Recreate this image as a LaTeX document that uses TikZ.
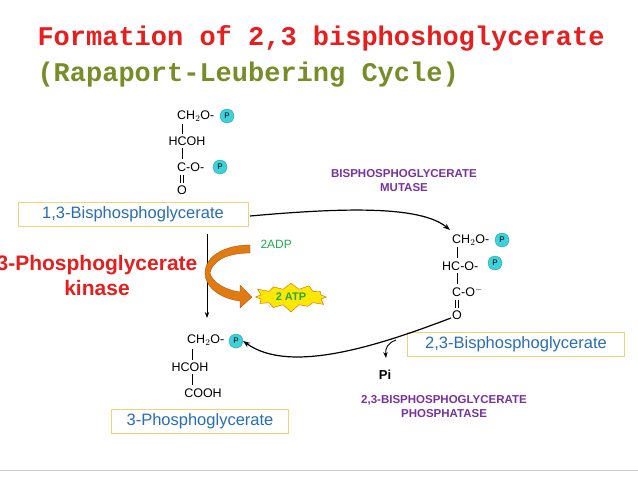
\documentclass[tikz,border=0pt]{standalone}
\usepackage{fontspec}
\setmainfont{Liberation Sans}
\newfontfamily\titlefont{Liberation Mono}
\usetikzlibrary{shapes.symbols,arrows.meta}
\definecolor{titred}{RGB}{230,30,30}
\definecolor{titgreen}{RGB}{120,140,40}
\definecolor{boxblue}{RGB}{40,110,180}
\definecolor{boxedge}{RGB}{240,210,120}
\definecolor{purp}{RGB}{120,50,160}
\definecolor{grn}{RGB}{30,170,80}
\definecolor{orng}{RGB}{220,100,20}
\definecolor{pcyan}{RGB}{60,210,220}
\tikzset{
  chem/.style={font=\fontsize{12.5}{13}\selectfont, inner sep=0pt},
  pball/.style={circle, fill=pcyan, draw=pcyan!70!black, line width=0.3pt, minimum size=14pt, inner sep=0pt, font=\fontsize{8}{9}\selectfont},
  namebox/.style={draw=boxedge, line width=1pt, text=boxblue, font=\fontsize{16.5}{17}\selectfont, inner xsep=5pt, minimum height=24pt},
  enz/.style={text=purp, font=\fontsize{11.5}{14}\selectfont\bfseries, align=center},
  bond/.style={line width=0.8pt},
  rxn/.style={line width=1.2pt, -{Stealth[length=7pt]}}
}
\begin{document}
\begin{tikzpicture}[x=1pt,y=-1pt]
\useasboundingbox (0,0) rectangle (638,479);
\fill[white] (0,0) rectangle (638,479);
\node[anchor=west, text=titred, font=\titlefont\fontsize{27}{28}\selectfont\bfseries] (t1) at (34,38) {Formation of 2,3 bisphoshoglycerate};
\node[anchor=west, text=titgreen, font=\titlefont\fontsize{27}{28}\selectfont\bfseries] (t2) at (34,75) {(Rapaport-Leubering Cycle)};
\draw[gray!40, line width=0.8pt] (0,470) -- (638,470);
% 1,3-BPG
\node[chem, anchor=west] (a1) at (177,116) {CH$_2$O-};
\node[pball] (ap1) at (227,116) {P};
\node[chem] (a2) at (187,141) {HCOH};
\node[chem, anchor=west] (a3) at (177,167) {C-O-};
\node[pball] (ap2) at (220,167) {P};
\node[chem] (a4) at (182,190) {O};
\draw[bond] (182,124) -- (182,134);
\draw[bond] (182,148) -- (182,159);
\draw[bond] (180.5,175) -- (180.5,183) (183.5,175) -- (183.5,183);
\node[namebox, minimum width=230pt] (b1) at (133,214) {1,3-Bisphosphoglycerate};
% kinase
\node[text=titred, font=\fontsize{21}{25}\selectfont\bfseries, align=center] (k) at (97,275) {3-Phosphoglycerate\\kinase};
\coordinate (v1) at (207,234);
\coordinate (v2) at (207,318);
\draw[line width=1pt, -{Stealth[length=6pt]}] (v1) -- (v2);
\coordinate (o1) at (250,245);
\draw[orng, fill=orng!85!yellow, draw=orng!70!black, line width=0.3pt]
  (o1) -- (250,253) .. controls (225,253) and (212,262) .. (210,273)
  .. controls (212,282) and (225,290) .. (240,292) -- (240,285) -- (252,297) -- (240,308) -- (240,301)
  .. controls (222,299) and (205,288) .. (205,273)
  .. controls (205,256) and (225,245) .. (o1) -- cycle;
\node[text=grn, font=\fontsize{12}{13}\selectfont, anchor=west] (adp) at (257,244) {2ADP};
\node[starburst, starburst points=12, starburst point height=8pt, fill=yellow!90!orange, draw=orange!80!black, line width=0.4pt, minimum width=78pt, minimum height=32pt, inner sep=0pt, text=grn, font=\fontsize{11}{12}\selectfont\bfseries] (atp) at (291,297) {2 ATP};
% 3-PG
\node[chem, anchor=west] (c1) at (187,340) {CH$_2$O-};
\node[pball] (cp1) at (236,341) {P};
\node[chem] (c2) at (190,367) {HCOH};
\node[chem] (c3) at (203,393) {COOH};
\draw[bond] (192,349) -- (192,360);
\draw[bond] (192,374) -- (192,385);
\node[namebox, minimum width=177pt] (b3) at (200,421) {3-Phosphoglycerate};
% mutase
\node[enz] (mut) at (404,181) {BISPHOSPHOGLYCERATE\\MUTASE};
\draw[rxn] (250,216) .. controls (340,208) and (420,205) .. (450,230);
% 2,3-BPG
\node[chem, anchor=west] (d1) at (452,240) {CH$_2$O-};
\node[pball] (dp1) at (502,240) {P};
\node[chem, anchor=west] (d2) at (442,266) {HC-O-};
\node[pball] (dp2) at (495,263) {P};
\node[chem, anchor=west] (d3) at (452,292) {C-O$^{-}$};
\node[chem] (d4) at (457,315) {O};
\draw[bond] (457,247) -- (457,258);
\draw[bond] (457,273) -- (457,284);
\draw[bond] (455.5,300) -- (455.5,308) (458.5,300) -- (458.5,308);
\node[namebox, minimum width=217pt] (b2) at (516,344) {2,3-Bisphosphoglycerate};
% return arrow
\coordinate (r1) at (451,318);
\draw[rxn] (r1) .. controls (380,345) and (290,375) .. (cp1.east);
\coordinate (rb) at (396,340);
\draw[line width=0.9pt, -{Stealth[length=6pt]}] (rb) .. controls (388,343) and (385,348) .. (386,358);
\node[font=\fontsize{13}{14}\selectfont\bfseries] (pi) at (385,375) {Pi};
\node[enz] (pho) at (444,407) {2,3-BISPHOSPHOGLYCERATE\\PHOSPHATASE};
\end{tikzpicture}
\end{document}
